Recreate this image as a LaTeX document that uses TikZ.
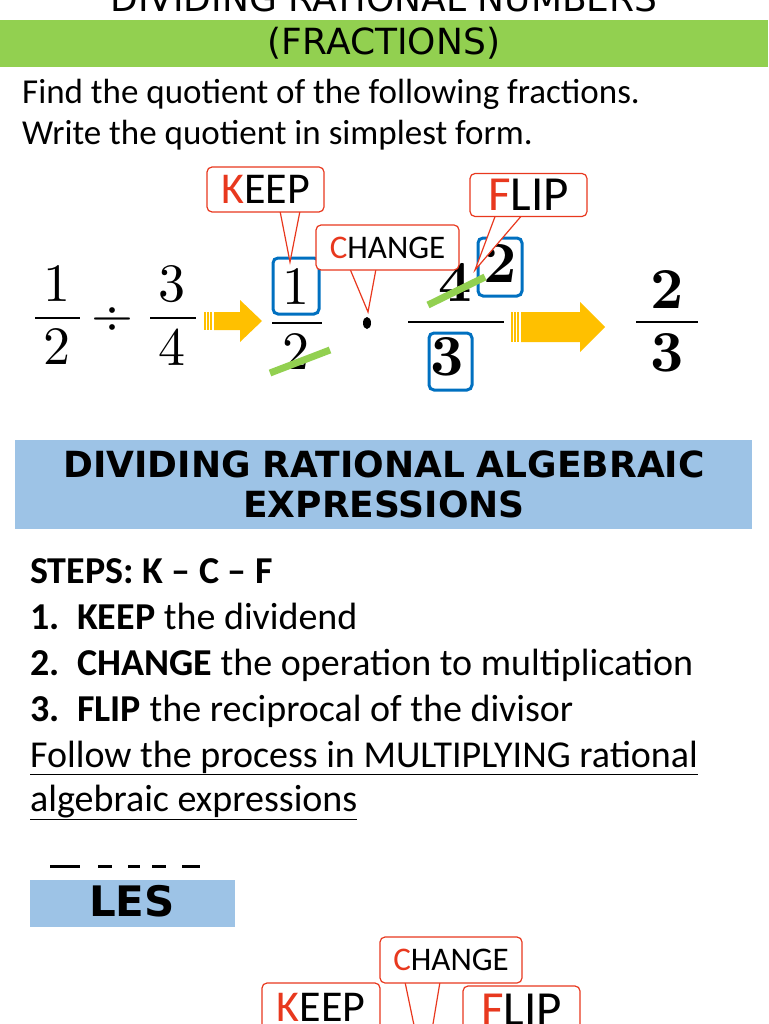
\documentclass[tikz,border=0pt]{standalone}
\usepackage{fontspec}
\setmainfont{Carlito}
\newfontfamily\dejavu{DejaVu Sans}
\newfontfamily\lmr{lmroman10-regular.otf}[BoldFont=lmroman10-bold.otf]
\definecolor{barGreen}{HTML}{92D050}
\definecolor{hdBlue}{HTML}{9DC3E6}
\definecolor{arrY}{HTML}{FFC000}
\definecolor{boxBlue}{HTML}{0070C0}
\definecolor{cRed}{HTML}{E8381E}
\begin{document}
\begin{tikzpicture}[x=1pt,y=-1pt,
  callout/.style={draw=cRed,line width=1.2pt,fill=white,rounded corners=5pt,inner sep=0pt},
  tail/.style={draw=cRed,line width=1.2pt,fill=white},
  dig/.style={inner sep=0pt,font=\lmr\fontsize{54}{60}\selectfont},
  bdig/.style={inner sep=0pt,font=\lmr\bfseries\fontsize{58}{64}\selectfont},
  hl/.style={draw=boxBlue,line width=3pt,rounded corners=5pt},
  slash/.style={draw=barGreen,line width=7pt},
  body/.style={anchor=base west,inner sep=0pt,font=\fontsize{35}{40}\selectfont},
  steptext/.style={anchor=base west,inner sep=0pt,font=\fontsize{38}{42}\selectfont}]
\useasboundingbox (0,0) rectangle (768,1024);
\clip (0,0) rectangle (768,1024);
% top bar
\fill[barGreen] (0,20) rectangle (768,67);
\node[inner sep=0pt,anchor=base,font=\dejavu\fontsize{36}{40}\selectfont] (t0) at (384,12) {DIVIDING RATIONAL NUMBERS};
\node[inner sep=0pt,anchor=base,font=\dejavu\fontsize{36}{40}\selectfont] (t1) at (384,55) {(FRACTIONS)};
\node[body] (f1) at (22,104) {Find the quotient of the following fractions.};
\node[body] (f2) at (22,145) {Write the quotient in simplest form.};
% fractions
\node[dig] (a1) at (57,284) {1};
\draw[line width=1.2pt] (35,318) -- (80,318);
\node[dig] (a2) at (57,347) {2};
\node[dig] (dv) at (113,320) {÷};
\node[dig] (b1) at (172,284) {3};
\draw[line width=1.2pt] (150,318) -- (196,318);
\node[dig] (b2) at (172,347) {4};
% arrow 1
\foreach \xx in {205,208,211}{\draw[arrY,line width=1.2pt] (\xx,312)--(\xx,330);}
\fill[arrY] (214,312) -- (240,312) -- (240,300) -- (262,321) -- (240,342) -- (240,330) -- (214,330) -- cycle;
\node[dig] (c1) at (296,287) {1};
\draw[line width=1.2pt] (272,323) -- (322,323);
\node[dig] (c2) at (296,352) {2};
\draw[hl] (273,258) rectangle (319,314);
\draw[slash] (270,373) -- (330,350);
\fill (367,323) ellipse (4 and 6);
\node[bdig] (d1) at (455,282) {4};
\node[bdig] (d2) at (500,264) {2};
\draw[line width=1.2pt] (408,322) -- (504,322);
\node[bdig] (d3) at (447,357) {3};
\draw[hl] (478,238) rectangle (522,296);
\draw[slash] (428,305) -- (485,277);
\draw[hl] (429,333) rectangle (472,390);
% arrow 2
\foreach \xx in {512,515,518}{\draw[arrY,line width=1.2pt] (\xx,312)--(\xx,342);}
\fill[arrY] (521,312) -- (580,312) -- (580,302) -- (605,327) -- (580,352) -- (580,342) -- (521,342) -- cycle;
\node[bdig] (e1) at (667,290) {2};
\draw[line width=2pt] (636,322) -- (698,322);
\node[bdig] (e2) at (667,353) {3};
% callouts top
\draw[tail] (280,211) -- (290,262) -- (300,211);
\node[callout,minimum width=117pt,minimum height=45pt,font=\fontsize{44}{46}\selectfont] (keep) at (265.5,189.5) {\textcolor{cRed}{K}EEP};
\draw[tail] (350,269) -- (368,312) -- (376,269);
\node[callout,minimum width=143pt,minimum height=45pt,font=\fontsize{33}{36}\selectfont] (chg) at (387.5,247.5) {\textcolor{cRed}{C}HANGE};
\draw[tail] (496,214) -- (475,270) -- (523,214);
\node[callout,minimum width=117pt,minimum height=43pt,font=\fontsize{49}{50}\selectfont] (flip) at (528.5,195) {\textcolor{cRed}{F}LIP};
% heading
\fill[hdBlue] (15,440) rectangle (752,529);
\node[inner sep=0pt,align=center,font=\dejavu\bfseries\fontsize{36}{40}\selectfont,text width=737pt] (hd) at (384,484) {DIVIDING RATIONAL ALGEBRAIC\\EXPRESSIONS};
% steps
\node[steptext] (s0) at (30,583) {\textbf{STEPS: K – C – F}};
\node[steptext] (s1) at (30,629) {\textbf{1.}};
\node[steptext] (s1b) at (77,629) {\textbf{KEEP} the dividend};
\node[steptext] (s2) at (30,675) {\textbf{2.}};
\node[steptext] (s2b) at (77,675) {\textbf{CHANGE} the operation to multiplication};
\node[steptext] (s3) at (30,721) {\textbf{3.}};
\node[steptext] (s3b) at (77,721) {\textbf{FLIP} the reciprocal of the divisor};
\node[steptext] (s4) at (30,767) {\underline{Follow the process in MULTIPLYING rational}};
\node[steptext] (s5) at (30,811) {\underline{algebraic expressions}};
% bottom
\fill (50,865) rectangle (80,868);
\fill (98,865) rectangle (112,868);\fill (128,865) rectangle (140,868);\fill (152,865) rectangle (166,868);\fill (182,865) rectangle (200,868);
\fill[hdBlue] (30,880) rectangle (235,927);
\node[inner sep=0pt,font=\dejavu\bfseries\fontsize{42}{46}\selectfont] (les) at (132,901) {LES};
\draw[tail] (405,982) -- (415,1030) -- (432,1030) -- (440,982);
\node[callout,minimum width=142pt,minimum height=46pt,font=\fontsize{33}{36}\selectfont] (chg2) at (451,960) {\textcolor{cRed}{C}HANGE};
\node[callout,minimum width=118pt,minimum height=48pt,font=\fontsize{44}{46}\selectfont] (keep2) at (321,1007) {\textcolor{cRed}{K}EEP};
\node[callout,minimum width=117pt,minimum height=48pt,font=\fontsize{49}{50}\selectfont] (flip2) at (521.5,1010) {\textcolor{cRed}{F}LIP};
\end{tikzpicture}
\end{document}
